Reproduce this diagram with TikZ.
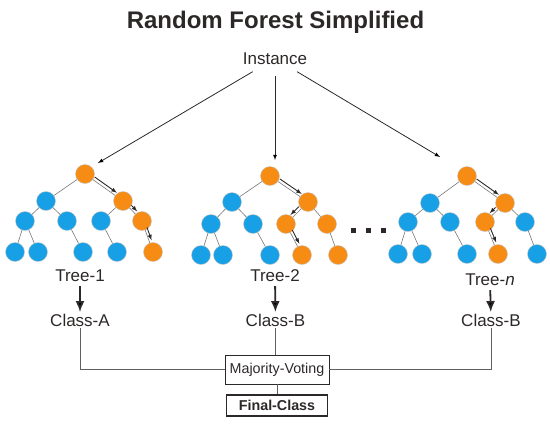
\documentclass[tikz,border=0pt]{standalone}
\usepackage{fontspec}
\setmainfont{Liberation Sans}
\usepackage{tikz}
\usetikzlibrary{positioning, arrows.meta}

\definecolor{leafblue}{RGB}{24,160,230}
\definecolor{pathorange}{RGB}{247,140,20}
\definecolor{inkgray}{RGB}{45,40,40}
\definecolor{twiggray}{RGB}{120,120,120}

\newcommand{\labelsize}{\fontsize{17}{19}\selectfont}
\newcommand{\boxsize}{\fontsize{14.3}{16}\selectfont}

\begin{document}
\begin{tikzpicture}[x=1pt, y=-1pt, >=latex,
        bnode/.style={circle, draw=gray!45, line width=0.4pt, fill=leafblue, minimum size=19pt, inner sep=0pt},
        onode/.style={bnode, fill=pathorange},
        walkr/.style={->, draw=inkgray, line width=0.9pt, transform canvas={xshift=1.8pt, yshift=2.6pt}},
        walkl/.style={->, draw=inkgray, line width=0.9pt, transform canvas={xshift=-2.4pt, yshift=2.2pt}},
        txt/.style={text=inkgray, font=\labelsize, inner sep=1pt},
        votebox/.style={draw=inkgray, line width=0.9pt, minimum width=104pt, minimum height=29pt, inner sep=0pt, text=inkgray, font=\boxsize}]
    \useasboundingbox (0,0) rectangle (550,424);

    \node[text=inkgray, font=\fontsize{24}{26}\selectfont\bfseries] (title) at (275.5,22) {Random Forest Simplified};
    \node[txt, inner sep=3pt] (inst) at (275,58.5) {Instance};

    % tree 1
    \node[onode] (t1r) at (85,174) {};
    \node[bnode] (t1a) at (46,201) {};
    \node[onode] (t1b) at (123,201) {};
    \node[bnode] (t1aa) at (25,221) {};
    \node[bnode] (t1ab) at (67,221) {};
    \node[bnode] (t1ba) at (101,221) {};
    \node[onode] (t1bb) at (142,221) {};
    \node[bnode] (t1aaa) at (15,252) {};
    \node[bnode] (t1aab) at (38,252) {};
    \node[bnode] (t1aba) at (83,252) {};
    \node[bnode] (t1baa) at (117,252) {};
    \node[onode] (t1bba) at (153,252) {};

    % tree 2
    \node[onode] (t2r) at (270,176) {};
    \node[bnode] (t2a) at (232,202) {};
    \node[onode] (t2b) at (308,202) {};
    \node[bnode] (t2aa) at (211,224) {};
    \node[bnode] (t2ab) at (253,224) {};
    \node[onode] (t2ba) at (286,224) {};
    \node[onode] (t2bb) at (327,224) {};
    \node[bnode] (t2aaa) at (201,255) {};
    \node[bnode] (t2aab) at (223,255) {};
    \node[bnode] (t2aba) at (270,255) {};
    \node[onode] (t2baa) at (302,255) {};
    \node[onode] (t2bba) at (338,255) {};

    % tree n
    \node[onode] (tnr) at (467,176) {};
    \node[bnode] (tna) at (430,203) {};
    \node[onode] (tnb) at (505,203) {};
    \node[bnode] (tnaa) at (408,222) {};
    \node[bnode] (tnab) at (450,222) {};
    \node[onode] (tnba) at (485,222) {};
    \node[bnode] (tnbb) at (525,222) {};
    \node[bnode] (tnaaa) at (398,254) {};
    \node[bnode] (tnaab) at (422,254) {};
    \node[bnode] (tnaba) at (467,254) {};
    \node[onode] (tnbaa) at (498,254) {};
    \node[bnode] (tnbba) at (537,254) {};

    \path[draw=twiggray, line width=0.6pt]
        (t1r) edge (t1a) (t1r) edge (t1b)
        (t1a) edge (t1aa) (t1a) edge (t1ab) (t1b) edge (t1ba) (t1b) edge (t1bb)
        (t1aa) edge (t1aaa) (t1aa) edge (t1aab) (t1ab) edge (t1aba) (t1ba) edge (t1baa) (t1bb) edge (t1bba)
        (t2r) edge (t2a) (t2r) edge (t2b)
        (t2a) edge (t2aa) (t2a) edge (t2ab) (t2b) edge (t2ba) (t2b) edge (t2bb)
        (t2aa) edge (t2aaa) (t2aa) edge (t2aab) (t2ab) edge (t2aba) (t2ba) edge (t2baa) (t2bb) edge (t2bba)
        (tnr) edge (tna) (tnr) edge (tnb)
        (tna) edge (tnaa) (tna) edge (tnab) (tnb) edge (tnba) (tnb) edge (tnbb)
        (tnaa) edge (tnaaa) (tnaa) edge (tnaab) (tnab) edge (tnaba) (tnba) edge (tnbaa) (tnbb) edge (tnbba)
        ;

    % decision paths
    \draw[walkr] (t1r) -- (t1b);
    \draw[walkr] (t1b) -- (t1bb);
    \draw[walkr] (t1bb) -- (t1bba);
    \draw[walkr] (t2r) -- (t2b);
    \draw[walkl] (t2b) -- (t2ba);
    \draw[walkr] (t2ba) -- (t2baa);
    \draw[walkr] (tnr) -- (tnb);
    \draw[walkl] (tnb) -- (tnba);
    \draw[walkr] (tnba) -- (tnbaa);

    \node[fill=inkgray, minimum size=5pt, inner sep=0pt] (dot1) at (353,230) {};
    \node[fill=inkgray, minimum size=5pt, inner sep=0pt] (dot2) at (368,230) {};
    \node[fill=inkgray, minimum size=5pt, inner sep=0pt] (dot3) at (383,230) {};

    \coordinate (in1) at (98,163);
    \coordinate (in2) at (275,160);
    \coordinate (inn) at (440,157);
    \path[->, draw=inkgray, line width=0.8pt, shorten <=8pt]
        (inst) edge (in1)
        (inst) edge (in2)
        (inst) edge (inn)
        ;

    \node[txt] (t1lab) at (80,275.5) {Tree-1};
    \node[txt] (t2lab) at (275,276) {Tree-2};
    \node[txt] (tnlab) at (490,280) {Tree-\textit{n}};
    \node[txt] (c1) at (80,320.5) {Class-A};
    \node[txt] (c2) at (275.5,320.5) {Class-B};
    \node[txt] (cn) at (491,320.5) {Class-B};

    \path[-{Latex[length=11pt, width=9pt]}, draw=inkgray, line width=1.8pt, shorten <=3pt, shorten >=1pt]
        (t1lab) edge (c1)
        (t2lab) edge (c2)
        (tnlab) edge (cn)
        ;

    \node[votebox] (vote) at (277,369.5) {Majority-Voting};
    \node[votebox, line width=1.8pt, minimum width=101pt, minimum height=21pt, font=\boxsize\bfseries] (final) at (277,405.5) {Final-Class};

    \draw[twiggray!80!black, line width=0.9pt] (c1) |- (vote);
    \draw[twiggray!80!black, line width=0.9pt] (cn) |- (vote);
    \draw[twiggray!80!black, line width=0.9pt] (c2) -- (c2 |- vote.north);
    \draw[twiggray!80!black, line width=0.9pt] (vote) -- (final);
\end{tikzpicture}
\end{document}
